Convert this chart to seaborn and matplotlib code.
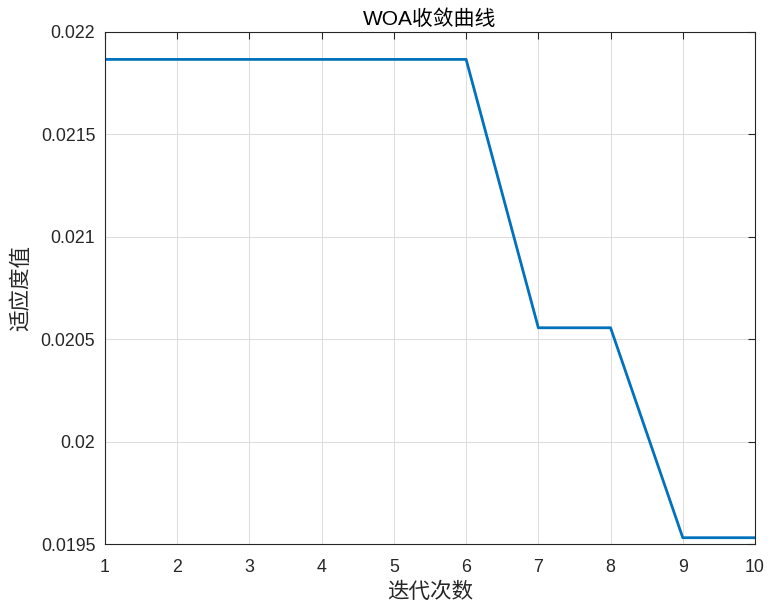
import matplotlib
matplotlib.use("Agg")
import matplotlib.pyplot as plt
import seaborn as sns
import pandas as pd

iterations = [1, 2, 3, 4, 5, 6, 7, 8, 9, 10]
fitness = [0.021864, 0.021864, 0.021864, 0.021864, 0.021864, 0.021864,
           0.020555, 0.020555, 0.019531, 0.019531]
x_ticks = [1, 2, 3, 4, 5, 6, 7, 8, 9, 10]
y_ticks = [0.0195, 0.02, 0.0205, 0.021, 0.0215, 0.022]
y_tick_labels = ["0.0195", "0.02", "0.0205", "0.021", "0.0215", "0.022"]

sns.set_style("white")
plt.rcParams['font.family'] = ['Liberation Sans', 'Noto Sans CJK SC', 'DejaVu Sans']

df = pd.DataFrame({"iter": iterations, "fit": fitness})

fig = plt.figure(figsize=(7.75, 6.12), dpi=100)
ax = fig.add_axes([0.1355, 0.111, 0.8387, 0.8375])
sns.lineplot(data=df, x="iter", y="fit", ax=ax, color="#0072BD", linewidth=2.0)

ax.set_xlim(1, 10)
ax.set_ylim(0.0195, 0.022)
ax.set_xticks(x_ticks)
ax.set_xticklabels([str(v) for v in x_ticks])
ax.set_yticks(y_ticks)
ax.set_yticklabels(y_tick_labels)
ax.grid(True, color="#dcdcdc", linewidth=0.7)
for s in ax.spines.values():
    s.set_color("#262626")
    s.set_linewidth(0.8)
    s.set_visible(True)
ax.tick_params(direction="in", length=5, width=0.8, colors="#262626",
               labelsize=12.8, top=True, right=True)
ax.tick_params(axis="x", pad=11)
ax.tick_params(axis="y", pad=7)

ax.set_xlabel("迭代次数", fontsize=15.5, family=['Noto Sans CJK SC'], fontweight='light',
              color="#262626", labelpad=3)
ax.set_ylabel("适应度值", fontsize=15.5, family=['Noto Sans CJK SC'], fontweight='light',
              color="#262626", labelpad=6)
ax.set_title("WOA收敛曲线", fontsize=15, family=['Liberation Sans', 'Noto Sans CJK SC'],
             color="black", pad=5)

fig.savefig("out.png", dpi=100)
